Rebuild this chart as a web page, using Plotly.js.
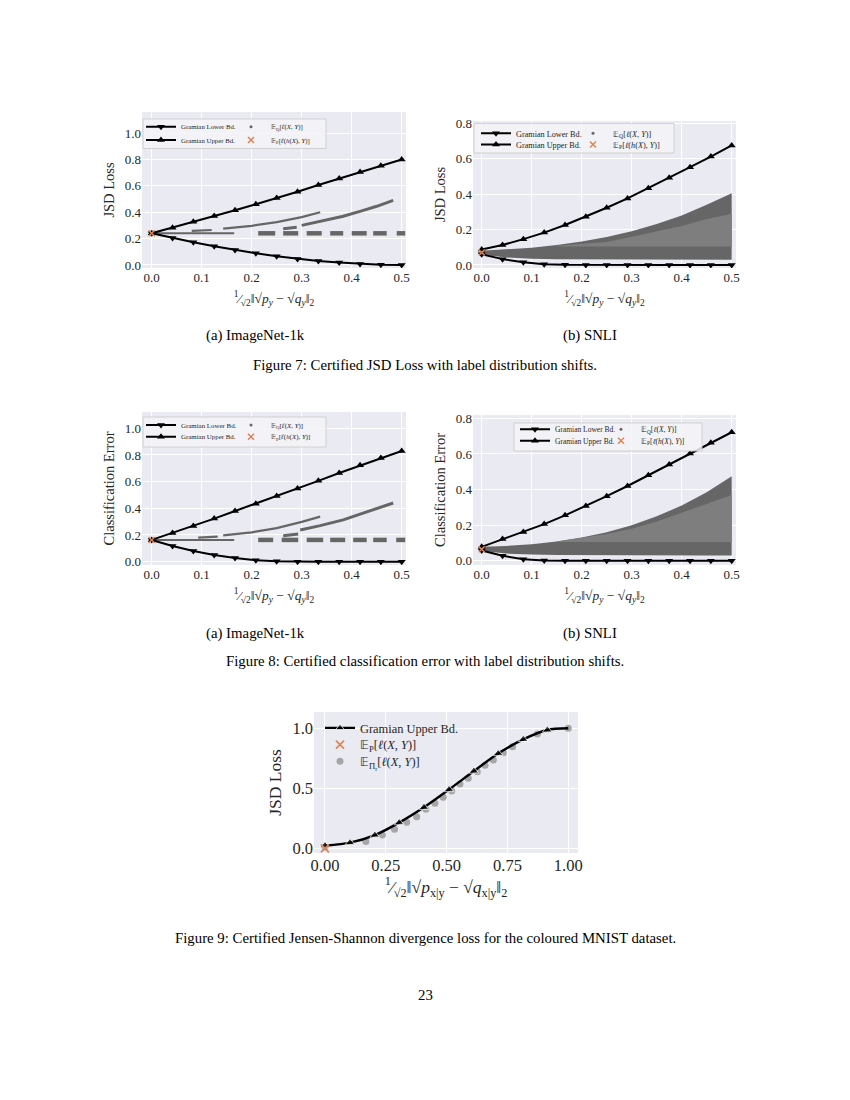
<!DOCTYPE html>
<html><head><meta charset="utf-8">
<script src="https://cdn.plot.ly/plotly-3.0.1.min.js"></script>
<style>html,body{margin:0;padding:0;background:#fff}</style>
</head><body><div id="chart" style="width:850px;height:1100px"></div>
<script>
// ---------------- data ----------------
// bound curves (Figures 7 and 8): x positions of marked points
const bdX = [0, 0.0417, 0.0833, 0.125, 0.1667, 0.2083, 0.25, 0.2917, 0.3333, 0.375, 0.4167, 0.4583, 0.5];

// Fig 7a ImageNet-1k, JSD loss
const imgJsdUpper = [0.24, 0.283, 0.327, 0.371, 0.415, 0.461, 0.507, 0.555, 0.606, 0.655, 0.705, 0.752, 0.80];
const imgJsdLower = [0.24, 0.205, 0.172, 0.142, 0.114, 0.089, 0.066, 0.046, 0.031, 0.018, 0.008, 0.002, 0.0];
const imgJsdBase = 0.24;
const imgJsdThinX = [0, 0.165];
const imgJsdDashX = [0.213, 0.247, null, 0.263, 0.293, null, 0.31, 0.34, null, 0.357, 0.383, null, 0.4, 0.43, null, 0.443, 0.47, null, 0.49, 0.507];
const imgJsdC1X = [0.08, 0.12, null, 0.143, 0.2, 0.25, 0.3, 0.337];
const imgJsdC1Y = [0.258, 0.265, null, 0.275, 0.297, 0.325, 0.363, 0.4];
const imgJsdC2X = [0.263, 0.29, null, 0.3, 0.337, 0.383, 0.42, 0.45, 0.483];
const imgJsdC2Y = [0.275, 0.286, null, 0.3, 0.33, 0.37, 0.41, 0.445, 0.49];

// Fig 8a ImageNet-1k, classification error
const imgErrUpper = [0.163, 0.215, 0.268, 0.323, 0.38, 0.435, 0.492, 0.548, 0.606, 0.665, 0.722, 0.777, 0.83];
const imgErrLower = [0.163, 0.118, 0.08, 0.05, 0.027, 0.011, 0.003, 0, 0, 0, 0, 0, 0];
const imgErrBase = 0.163;
const imgErrThinX = [0, 0.165];
const imgErrDashX = [0.213, 0.243, null, 0.26, 0.293, null, 0.31, 0.343, null, 0.357, 0.387, null, 0.403, 0.43, null, 0.443, 0.47, null, 0.489, 0.507];
const imgErrC1X = [0.093, 0.132, null, 0.143, 0.2, 0.25, 0.3, 0.337];
const imgErrC1Y = [0.18, 0.188, null, 0.197, 0.22, 0.252, 0.298, 0.338];
const imgErrC2X = [0.263, 0.293, null, 0.297, 0.337, 0.383, 0.42, 0.45, 0.483];
const imgErrC2Y = [0.195, 0.208, null, 0.238, 0.27, 0.313, 0.36, 0.4, 0.44];

// Fig 7b SNLI, JSD loss
const snliX = [0, 0.05, 0.1, 0.15, 0.2, 0.25, 0.3, 0.35, 0.4, 0.45, 0.5];
const snliSpeckX = [0.15, 0.2, 0.25, 0.3, 0.35, 0.4, 0.45, 0.5];
const snliJsdUpper = [0.087, 0.113, 0.146, 0.183, 0.226, 0.273, 0.323, 0.376, 0.433, 0.492, 0.552, 0.612, 0.675];
const snliJsdLower = [0.06, 0.033, 0.016, 0.004, 0.001, 0, 0, 0, 0, 0, 0, 0, 0];
const snliJsdTop = [0.08, 0.088, 0.098, 0.113, 0.132, 0.158, 0.19, 0.232, 0.28, 0.34, 0.405];
const snliJsdFloor = [0.058, 0.042, 0.035, 0.032, 0.031, 0.03, 0.03, 0.03, 0.03, 0.03, 0.03];
const snliJsdSpeckLow = [0.105, 0.105, 0.105, 0.105, 0.105, 0.105, 0.105, 0.105];
const snliJsdSpeckHigh = [0.108, 0.12, 0.13, 0.16, 0.19, 0.22, 0.26, 0.29];
const snliJsdP = 0.07;

// Fig 8b SNLI, classification error
const snliErrUpper = [0.078, 0.122, 0.162, 0.206, 0.255, 0.307, 0.363, 0.42, 0.48, 0.541, 0.603, 0.663, 0.722];
const snliErrLower = [0.058, 0.028, 0.008, 0.001, 0, 0, 0, 0, 0, 0, 0, 0, 0];
const snliErrTop = [0.078, 0.083, 0.093, 0.108, 0.13, 0.16, 0.2, 0.25, 0.31, 0.385, 0.475];
const snliErrFloor = [0.055, 0.04, 0.035, 0.032, 0.031, 0.03, 0.03, 0.03, 0.03, 0.03, 0.03];
const snliErrSpeckLow = [0.105, 0.105, 0.105, 0.105, 0.105, 0.105, 0.105, 0.105];
const snliErrSpeckHigh = [0.108, 0.13, 0.15, 0.18, 0.22, 0.27, 0.32, 0.37];
const snliErrP = 0.065;

// Fig 9 coloured MNIST
const mnistBdX = [0, 0.103, 0.205, 0.305, 0.407, 0.51, 0.612, 0.712, 0.815, 0.914, 1.0];
const mnistBdY = [0.022, 0.047, 0.11, 0.214, 0.342, 0.49, 0.644, 0.79, 0.908, 0.986, 1.0];
const mnistPiX = [0.0, 0.168, 0.236, 0.286, 0.336, 0.377, 0.415, 0.452, 0.486, 0.521, 0.555, 0.589, 0.626, 0.658, 0.692, 0.733, 0.771, 0.873, 1.0];
const mnistPiY = [0.01, 0.056, 0.111, 0.158, 0.217, 0.264, 0.325, 0.375, 0.425, 0.478, 0.536, 0.583, 0.639, 0.692, 0.736, 0.797, 0.847, 0.953, 1.0];
const mnistPX = [0.0];
const mnistPY = [0.0];

// labels
const lblLower = 'Gramian Lower Bd.';
const lblUpper = 'Gramian Upper Bd.';
const lblQ = '𝔼<sub>Q</sub>[<i>ℓ</i>(<i>X</i>, <i>Y</i>)]';
const lblPh = '𝔼<sub>P</sub>[<i>ℓ</i>(<i>h</i>(<i>X</i>), <i>Y</i>)]';
const lblP = '𝔼<sub>P</sub>[<i>ℓ</i>(<i>X</i>, <i>Y</i>)]';
const lblPi = '𝔼<sub>Π<sub>r</sub></sub>[<i>ℓ</i>(<i>X</i>, <i>Y</i>)]';
const xTitleY = '<sup>1</sup>⁄<sub>√2</sub>‖√<i>p<sub>y</sub></i> − √<i>q<sub>y</sub></i>‖<sub>2</sub>';
const xTitleXY = '<sup>1</sup>⁄<sub>√2</sub>‖√<i>p</i><sub>x|y</sub> − √<i>q</i><sub>x|y</sub>‖<sub>2</sub>';

// ---------------- style helpers ----------------
const W = 850, H = 1100;
const FONT = 'Liberation Serif';
const INK = '#262626';
const GRAY = '#666666';
const SPECK = '#7e7e7e';
const ORANGE = '#dd8452';
const pxX = v => v / W;
const pxY = v => 1 - v / H;

const legends = {};
let legN = 0;
function leg(originX, centerY, size) {
  legN++;
  const name = legN === 1 ? 'legend' : 'legend' + legN;
  legends[name] = {
    x: pxX(originX), y: pxY(centerY), xanchor: 'left', yanchor: 'middle',
    bgcolor: 'rgba(0,0,0,0)', borderwidth: 0,
    font: {family: FONT, size: size, color: INK}
  };
  return name;
}
const gapY = (xs, v) => xs.map(x => x === null ? null : v);

const traces = [];
function bounds(xa, ya, lower, upper, legL, legU, lw, ms) {
  traces.push({type: 'scatter', mode: 'lines+markers', x: bdX, y: lower, xaxis: xa, yaxis: ya,
    name: lblLower, legend: legL, line: {color: '#000', width: lw},
    marker: {symbol: 'triangle-down', size: ms, color: '#000'}});
  traces.push({type: 'scatter', mode: 'lines+markers', x: bdX, y: upper, xaxis: xa, yaxis: ya,
    name: lblUpper, legend: legU, line: {color: '#000', width: lw},
    marker: {symbol: 'triangle-up', size: ms, color: '#000'}});
}
function seg(xa, ya, xs, ys, w) {
  traces.push({type: 'scatter', mode: 'lines', x: xs, y: ys, xaxis: xa, yaxis: ya,
    showlegend: false, connectgaps: false, line: {color: GRAY, width: w}, hoverinfo: 'skip'});
}
function qPoint(xa, ya, y0, legQ, ms) {
  traces.push({type: 'scatter', mode: 'markers', x: [0], y: [y0], xaxis: xa, yaxis: ya,
    name: lblQ, legend: legQ, marker: {color: GRAY, size: ms}});
}
function pPoint(xa, ya, y0, legP, ms, label) {
  traces.push({type: 'scatter', mode: 'markers', x: [0], y: [y0], xaxis: xa, yaxis: ya,
    name: label, legend: legP, marker: {symbol: 'x-thin', size: ms, color: ORANGE, line: {color: ORANGE, width: 1.5}}});
}
function band(xa, ya, xs, low, high, color) {
  traces.push({type: 'scatter', mode: 'lines', x: xs.concat(xs.slice().reverse()),
    y: high.concat(low.slice().reverse()), fill: 'toself', fillcolor: color,
    line: {width: 0, color: color}, xaxis: xa, yaxis: ya, showlegend: false, hoverinfo: 'skip'});
}

// ---------- Fig 7a ----------
{
  const lL = leg(141, 126.7, 6.8), lU = leg(141, 140, 6.8), lQ = leg(231, 126.7, 6.8), lP = leg(231, 140, 6.8);
  seg('x', 'y', imgJsdThinX, gapY(imgJsdThinX, imgJsdBase), 2);
  seg('x', 'y', imgJsdDashX, gapY(imgJsdDashX, imgJsdBase), 4.5);
  seg('x', 'y', imgJsdC1X, imgJsdC1Y, 2.2);
  seg('x', 'y', imgJsdC2X, imgJsdC2Y, 3);
  qPoint('x', 'y', imgJsdBase, lQ, 3);
  bounds('x', 'y', imgJsdLower, imgJsdUpper, lL, lU, 2, 7);
  pPoint('x', 'y', imgJsdBase, lP, 6, lblPh);
}
// ---------- Fig 7b ----------
{
  const lL = leg(476, 133.3, 8.2), lU = leg(476, 144.5, 8.2), lQ = leg(573, 133.3, 8.2), lP = leg(573, 144.5, 8.2);
  band('x2', 'y2', snliX, snliJsdFloor, snliJsdTop, GRAY);
  band('x2', 'y2', snliSpeckX, snliJsdSpeckLow, snliJsdSpeckHigh, SPECK);
  qPoint('x2', 'y2', snliJsdP, lQ, 3);
  bounds('x2', 'y2', snliJsdLower, snliJsdUpper, lL, lU, 2, 7);
  pPoint('x2', 'y2', snliJsdP, lP, 6, lblPh);
}
// ---------- Fig 8a ----------
{
  const lL = leg(141, 425, 6.9), lU = leg(141, 436.7, 6.9), lQ = leg(231, 425, 6.9), lP = leg(231, 436.7, 6.9);
  seg('x3', 'y3', imgErrThinX, gapY(imgErrThinX, imgErrBase), 2);
  seg('x3', 'y3', imgErrDashX, gapY(imgErrDashX, imgErrBase), 4.5);
  seg('x3', 'y3', imgErrC1X, imgErrC1Y, 2.2);
  seg('x3', 'y3', imgErrC2X, imgErrC2Y, 3);
  qPoint('x3', 'y3', imgErrBase, lQ, 3);
  bounds('x3', 'y3', imgErrLower, imgErrUpper, lL, lU, 2, 7);
  pPoint('x3', 'y3', imgErrBase, lP, 6, lblPh);
}
// ---------- Fig 8b ----------
{
  const lL = leg(515, 429.3, 7.5), lU = leg(515, 440.7, 7.5), lQ = leg(601, 429.3, 7.5), lP = leg(601, 440.7, 7.5);
  band('x4', 'y4', snliX, snliErrFloor, snliErrTop, GRAY);
  band('x4', 'y4', snliSpeckX, snliErrSpeckLow, snliErrSpeckHigh, SPECK);
  qPoint('x4', 'y4', snliErrP, lQ, 3);
  bounds('x4', 'y4', snliErrLower, snliErrUpper, lL, lU, 2, 7);
  pPoint('x4', 'y4', snliErrP, lP, 6, lblPh);
}
// ---------- Fig 9 ----------
{
  const lU = leg(320, 728.3, 12.4), lP = leg(320, 745, 12.4), lPi = leg(320, 761.7, 12.4);
  traces.push({type: 'scatter', mode: 'markers', x: mnistPiX, y: mnistPiY, xaxis: 'x5', yaxis: 'y5',
    name: lblPi, legend: lPi, marker: {color: '#a6a6a6', size: 7}});
  traces.push({type: 'scatter', mode: 'lines+markers', x: mnistBdX, y: mnistBdY, xaxis: 'x5', yaxis: 'y5',
    name: lblUpper, legend: lU, line: {color: '#000', width: 2.4, shape: 'spline', smoothing: 0.8},
    marker: {symbol: 'triangle-up', color: '#000', size: mnistBdX.map((v, i) => i === mnistBdX.length - 1 ? 0 : 8.5)}});
  traces.push({type: 'scatter', mode: 'markers', x: mnistPX, y: mnistPY, xaxis: 'x5', yaxis: 'y5',
    name: lblP, legend: lP, marker: {symbol: 'x-thin', size: 8, color: ORANGE, line: {color: ORANGE, width: 1.6}}});
}

// ---------------- axes ----------------
function xAxis(l, r, range, dtick, fmt, fs, title, tfs, anchor, standoff) {
  return {domain: [pxX(l), pxX(r)], range: range, dtick: dtick, tick0: 0, tickformat: fmt,
    showgrid: true, gridcolor: '#ffffff', gridwidth: 1, zeroline: false, showline: false, ticks: '',
    tickfont: {family: FONT, size: fs, color: INK}, anchor: anchor,
    title: {text: title, font: {family: FONT, size: tfs, color: INK}, standoff: standoff}, automargin: false};
}
function yAxis(top, bot, range, dtick, fs, title, tfs, anchor, standoff) {
  return {domain: [pxY(bot), pxY(top)], range: range, dtick: dtick, tick0: 0, tickformat: '.1f',
    showgrid: true, gridcolor: '#ffffff', gridwidth: 1, zeroline: false, showline: false, ticks: '',
    tickfont: {family: FONT, size: fs, color: INK}, anchor: anchor,
    title: {text: title, font: {family: FONT, size: tfs, color: INK}, standoff: standoff}, automargin: false};
}

const layout = Object.assign({
  width: W, height: H, margin: {l: 0, r: 0, t: 0, b: 0},
  paper_bgcolor: '#ffffff', plot_bgcolor: '#eaeaf2', showlegend: true,
  xaxis: xAxis(142, 406, [-0.0194, 0.5086], 0.1, '.1f', 13, xTitleY, 13.5, 'y', 9),
  yaxis: yAxis(112, 268, [-0.023, 1.16], 0.2, 13, 'JSD Loss', 14.5, 'x', 6),
  xaxis2: xAxis(473, 736, [-0.0174, 0.5086], 0.1, '.1f', 13, xTitleY, 13.5, 'y2', 9),
  yaxis2: yAxis(121, 268, [-0.017, 0.813], 0.2, 13, 'JSD Loss', 14.5, 'x2', 6),
  xaxis3: xAxis(142, 406, [-0.0194, 0.5086], 0.1, '.1f', 13, xTitleY, 13.5, 'y3', 9),
  yaxis3: yAxis(412, 565, [-0.025, 1.122], 0.2, 13, 'Classification Error', 14.5, 'x3', 6),
  xaxis4: xAxis(473, 736, [-0.0174, 0.5086], 0.1, '.1f', 13, xTitleY, 13.5, 'y4', 9),
  yaxis4: yAxis(415, 565, [-0.024, 0.819], 0.2, 13, 'Classification Error', 14.5, 'x4', 6),
  xaxis5: xAxis(314, 578, [-0.045, 1.04], 0.25, '.2f', 16.5, xTitleXY, 17.5, 'y5', 5),
  yaxis5: yAxis(712, 853, [-0.039, 1.136], 0.5, 16.5, 'JSD Loss', 17.5, 'x5', 6),
  shapes: [
    [143, 119, 326, 148.5], [474, 123.5, 674, 153], [143, 417, 326, 447], [514, 423, 702, 451]
  ].map(b => ({type: 'rect', xref: 'paper', yref: 'paper', layer: 'above',
    x0: pxX(b[0]), x1: pxX(b[2]), y0: pxY(b[3]), y1: pxY(b[1]),
    fillcolor: 'rgba(244,244,248,0.85)', line: {color: '#c8c8c8', width: 0.8}})),
  annotations: [
    ['(a) ImageNet-1k', 255, 336, 14.8], ['(b) SNLI', 590, 336, 14.8],
    ['Figure 7: Certified JSD Loss with label distribution shifts.', 425, 365, 14.8],
    ['(a) ImageNet-1k', 255, 633, 14.8], ['(b) SNLI', 590, 633, 14.8],
    ['Figure 8: Certified classification error with label distribution shifts.', 425, 661, 14.8],
    ['Figure 9: Certified Jensen-Shannon divergence loss for the coloured MNIST dataset.', 425, 938, 14.8],
    ['23', 425, 995, 14.8]
  ].map(a => ({text: a[0], x: pxX(a[1]), y: pxY(a[2]), xref: 'paper', yref: 'paper',
    xanchor: 'center', yanchor: 'middle', showarrow: false, font: {family: FONT, size: a[3], color: '#000'}}))
}, legends);

Plotly.newPlot('chart', traces, layout, {displayModeBar: false, staticPlot: true});
</script></body></html>
